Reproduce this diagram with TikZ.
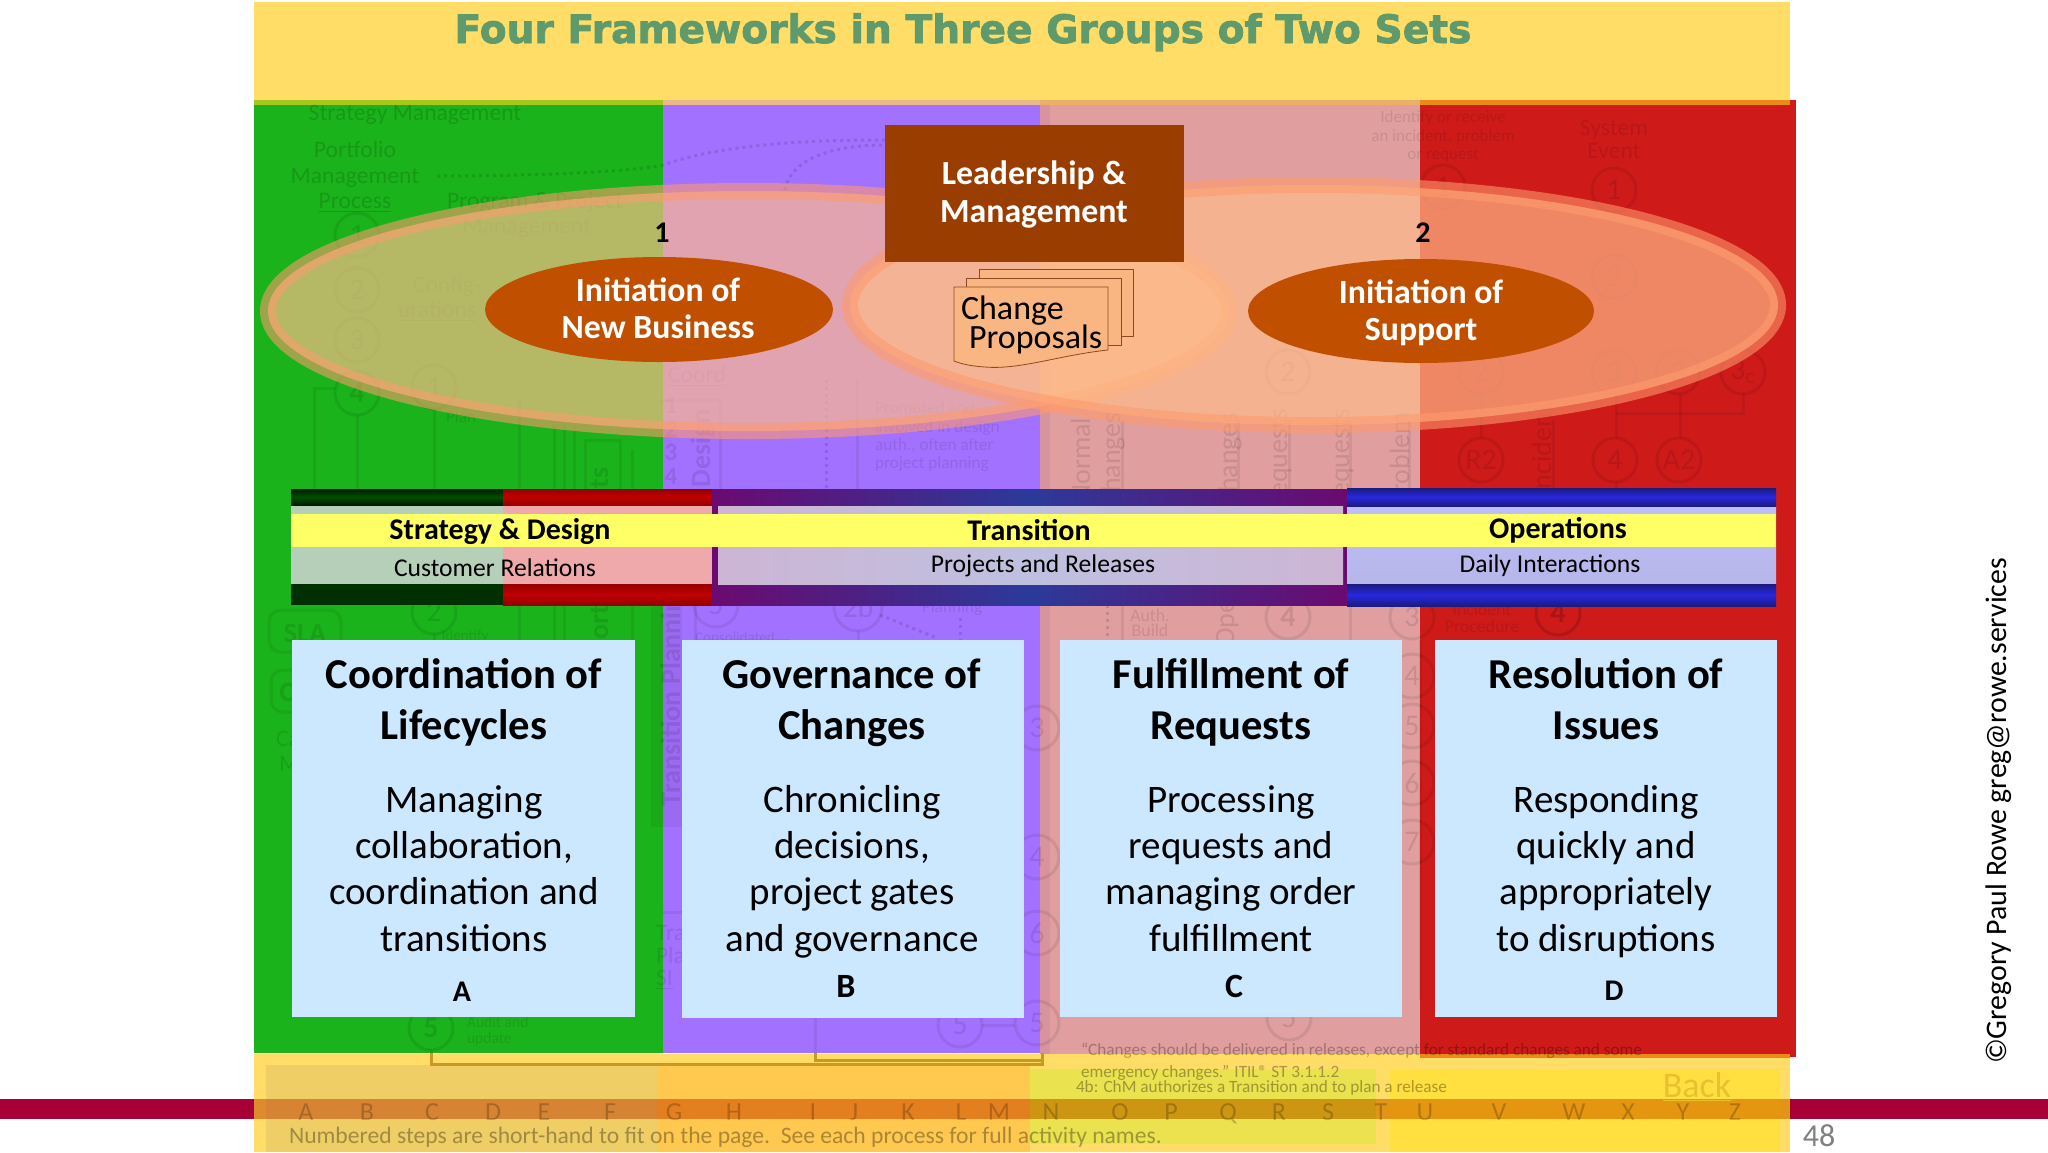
\documentclass[tikz,border=0pt]{standalone}
\usepackage{fontspec}
\setmainfont{Carlito}
\newfontfamily\titlefont[BoldFeatures={FakeBold=2}]{DejaVu Sans}
\usetikzlibrary{shapes.geometric}
\newcommand{\fs}[1]{\fontsize{#1}{#1}\selectfont}
\newcommand{\defc}[2]{\definecolor{#1}{HTML}{#2}}
\defc{cgreen}{1BB31B}\defc{cpurple}{A371FF}\defc{cpink}{E09E9E}\defc{cred}{CF1A1A}
\defc{cyel}{FFDD66}\defc{ccrim}{A80036}\defc{cbox}{CCE8FF}\defc{corange}{C05000}
\defc{cbrown}{993D00}\defc{cpeach}{FFBC8A}\defc{cstroke}{FF9A6C}\defc{cdocfill}{F9B682}
\defc{cdocline}{8B4A20}\defc{cstripy}{FFFF66}\defc{cpinkedge}{D8939E}
\defc{stripa}{A6C81A}\defc{stripb}{EAB88A}\defc{stripc}{EAB067}\defc{stripd}{EB8A1A}
\defc{zonea}{F0CE66}\defc{zoneb}{FFC84F}\defc{zonec}{EAE24E}\defc{zoned}{FFE040}
\defc{oa}{E08A30}\defc{ob}{D68433}\defc{occ}{E37F1F}\defc{od}{CC9612}\defc{oe}{E09418}\defc{of}{E59610}
\defc{pgl}{B5CFB9}\defc{prl}{EFA9AA}\defc{tlight}{CDB5D5}\defc{tmid}{BFC0E0}
\defc{opl}{BEBEFC}\defc{opm}{B6B6E8}\defc{tpur}{6B0A70}\defc{tblu}{2B3A9A}
\defc{bandr}{C00000}\defc{bandre}{960000}\defc{bgd}{003000}\defc{bgm}{005000}\defc{bge}{001A00}
\defc{bbl}{2828E0}\defc{bbe}{1A1A80}\defc{titlec}{5F9A6D}\defc{linegold}{C99A1F}\defc{backc}{E8C030}
\tikzset{
  x=0.5pt,y=-0.5pt,
  tx/.style={inner sep=0pt,outer sep=0pt,anchor=base},
  txw/.style={inner sep=0pt,outer sep=0pt,anchor=base west},
  ghost/.style={inner sep=0pt,outer sep=0pt,anchor=base,text=black,text opacity=.10},
  ghostw/.style={ghost,anchor=base west},
  gline/.style={draw=black,draw opacity=.07,line width=1.5pt},
  gcirc/.style={circle,draw=black,draw opacity=.08,line width=1.5pt,minimum size=22pt,inner sep=0pt,text=black,text opacity=.10,font=\fs{15}},
  gdot/.style={draw=black,draw opacity=.12,line width=1.5pt,dotted},
  bigell/.style={ellipse,inner sep=0pt,fill=cpeach,fill opacity=.68,draw=cstroke,draw opacity=.58,line width=8pt},
  initell/.style={ellipse,inner sep=0pt,outer sep=0pt,fill=corange},
  bh/.style={tx,yshift=-.5pt,font=\fs{21.3}\bfseries},
  bb/.style={tx,yshift=-.5pt,font=\fs{19.5}},
  bl/.style={tx,font=\fs{15}\bfseries},
  ban/.style={tx,font=\fs{15}\bfseries},
  bans/.style={tx,font=\fs{12.8}},
  ini/.style={tx,text=white,font=\fs{16.9}\bfseries},
  doc/.style={draw=cdocline,line width=.4pt,fill=cdocfill},
  foot/.style={inner sep=0pt,outer sep=0pt,anchor=base,text=black,text opacity=.33},
  footw/.style={foot,anchor=base west},
}
\begin{document}
\begin{tikzpicture}
\useasboundingbox (0,0) rectangle (2048,1152);
\fill[white] (0,0) rectangle (2048,1152);
% top band
\fill[cyel] (254,2) rectangle (1790,100);
% columns
\fill[cred] (1420,100) rectangle (1796,1057);
\fill[cgreen] (254,105) rectangle (663,1053);
\fill[cpurple] (663,105) rectangle (1040,1053);
\fill[cpink] (1040,105) rectangle (1420,1054);
\fill[cpinkedge] (1040,105) rectangle (1050,1054);
\fill[stripa] (254,100) rectangle (663,105);
\fill[stripb] (663,100) rectangle (1040,105);
\fill[stripc] (1040,100) rectangle (1420,105);
\fill[stripd] (1420,100) rectangle (1790,105);

% faint background drawing
\node[ghost,font=\fs{11.8},text opacity=.14] (g1) at (415,120) {Strategy Management};
\node[ghost,font=\fs{11.8},text opacity=.14] (g2) at (355,157) {Portfolio};
\node[ghost,font=\fs{11.8},text opacity=.14] (g3) at (355,183) {Management};
\node[ghost,font=\fs{11.8},text opacity=.14] (g4) at (355,208) {\underline{Process}};
\node[ghost,font=\fs{11.8},anchor=base west,text opacity=.14] (g5) at (447,208) {Program \& Project};
\node[ghost,font=\fs{11.8}] (g6) at (527,233) {Management};
\draw[gdot] (437,176) .. controls (560,176) and (640,170) .. (663,165) .. controls (720,145) and (800,140) .. (885,140);
\draw[gdot] (785,190) .. controls (790,160) and (830,145) .. (885,145);
\node[gcirc] (c1) at (357,235) {1};
\node[gcirc] (c2) at (357,290) {2};
\node[gcirc] (c3) at (357,340) {3};
\node[gcirc,font=\fs{15}\bfseries] (c4) at (357,393) {4};
\node[gcirc] (c5) at (434,387) {1};
\node[ghost,font=\fs{11.8}] (g7) at (447,292) {Config-};
\node[ghost,font=\fs{11.8}] (g8) at (437,317) {\underline{urations}};
\node[ghost,font=\fs{8.5}] (g9) at (461,422) {Plan};
\draw[gline] (357,415) -- (357,489);
\draw[gline] (314,489) -- (314,388) -- (335,388);
\draw[gline] (434,409) -- (434,489);
\draw[gline] (519,400) -- (519,489);
\draw[gline] (554,425) -- (554,489) (564,425) -- (564,489) (574,425) -- (574,489);
\draw[gline] (585,489) -- (585,440) -- (620,440) -- (620,489);
\draw[gline] (632,489) -- (632,450);
\node[ghost,font=\fs{14}\bfseries,rotate=90] (g10) at (608,478) {ts};
\node[ghost,font=\fs{14}\bfseries,rotate=90] (g11) at (608,617) {orts};
\draw[gline] (519,605) -- (519,640) (554,605) -- (554,640) (564,605) -- (564,640) (632,605) -- (632,640);
\node[gcirc] (c6) at (434,612) {2};
\draw[gline] (434,634) -- (434,640);
\node[ghost,font=\fs{7.5}] (g12) at (465,640) {Identify};
\draw[gline,rounded corners=6pt] (269,610) rectangle (341,652);
\node[ghost,font=\fs{14}\bfseries] (g13) at (305,642) {SLA};
\draw[gline,rounded corners=6pt] (271,670) rectangle (341,712);
\node[ghost,font=\fs{14}\bfseries] (g14) at (287,701) {C};
\node[ghostw,font=\fs{11.8}] (g15) at (276,746) {Ca};
\node[ghostw,font=\fs{11.8}] (g16) at (279,771) {M};
\node[gcirc,font=\fs{15}\bfseries] (c7) at (431,1028) {5};
\draw[gline] (431,1050) -- (431,1053);
\node[ghostw,font=\fs{7.8}] (g17) at (467,1027) {Audit and};
\node[ghostw,font=\fs{7.8}] (g18) at (467,1043) {update};
\fill[black,fill opacity=.05] (651,605) rectangle (682,827);
\node[ghost,font=\fs{14}\bfseries,rotate=90] (g19) at (680,695) {Transition Planning};
\draw[gline] (663,912) -- (682,912);
\node[ghostw,font=\fs{11.8}] (g20) at (656,940) {Tra};
\node[ghostw,font=\fs{11.8}] (g21) at (656,963) {Pla};
\node[ghostw,font=\fs{11.8}] (g22) at (656,985) {\underline{SI}};
\node[ghost,font=\fs{11.8}] (g23) at (697,382) {\underline{Coord}};
\node[ghost,font=\fs{12.5}\bfseries] (g24) at (671,413) {1};
\node[ghost,font=\fs{12.5}\bfseries] (g25) at (671,437) {2};
\node[ghost,font=\fs{12.5}\bfseries] (g26) at (671,460) {3};
\node[ghost,font=\fs{12.5}\bfseries] (g27) at (671,484) {4};
\node[ghost,font=\fs{14}\bfseries,rotate=90] (g28) at (710,448) {Design};
\draw[gline] (720,400) -- (720,489) (660,400) -- (720,400);
\node[ghostw,font=\fs{8.6}] (g29) at (875,413) {Promoted and};
\node[ghostw,font=\fs{8.6}] (g30) at (875,432) {involved in design};
\node[ghostw,font=\fs{8.6}] (g31) at (875,450) {auth., often after};
\node[ghostw,font=\fs{8.6}] (g32) at (875,468) {project planning};
\draw[gdot] (826,380) -- (826,489);
\draw[gline] (857,380) -- (857,489);
\node[gcirc,minimum size=24pt] (c8) at (858,607) {2b};
\node[ghost,font=\fs{8.6}] (g34) at (952,612) {Planning};
\draw[gdot] (880,615) -- (937,638);
\draw[gdot] (960,618) -- (960,640);
\draw[gline] (858,631) -- (858,640);
\node[ghost,font=\fs{7.5}] (g35) at (735,642) {Consolidated};
\node[gcirc] (c9) at (716,605) {5};
\draw[gline] (695,605) -- (695,640) -- (790,640);
\node[gcirc] (c10) at (1037,728) {3};
\node[gcirc] (c11) at (1037,857) {4};
\node[gcirc] (c12) at (1037,933) {6};
\node[gcirc] (c13) at (1037,1023) {5};
\node[gcirc] (c14) at (960,1025) {5};
\draw[gline] (982,1025) -- (1015,1025);
\draw[gline] (815,1017) -- (815,1053);
% pink
\node[ghost,font=\fs{14},rotate=90] (g36) at (1090,460) {Normal};
\node[ghost,font=\fs{14},rotate=90] (g37) at (1120,460) {Changes};
\node[ghost,font=\fs{14},rotate=90] (g38) at (1237,460) {Changes};
\node[ghost,font=\fs{14},rotate=90] (g39) at (1287,460) {Requests};
\node[ghost,font=\fs{14},rotate=90] (g40) at (1349,460) {Requests};
\node[ghost,font=\fs{14},rotate=90] (g41) at (1409,460) {Problem};
\draw[gline] (1122,420) -- (1122,489) (1238,420) -- (1238,489) (1289,420) -- (1289,489) (1350,420) -- (1350,489) (1409,420) -- (1409,489);
\node[ghost,font=\fs{8.9}] (g42) at (1150,621) {Auth.};
\node[ghost,font=\fs{8.9}] (g43) at (1150,636) {Build};
\draw[gdot] (1107,605) -- (1107,640);
\draw[gline] (1122,605) -- (1122,640);
\node[ghost,font=\fs{14},rotate=90] (g44) at (1234,623) {Ope};
\node[gcirc,font=\fs{15}\bfseries] (c15) at (1288,617) {4};
\node[gcirc] (c16) at (1412,617) {3};
\draw[gline] (1350,605) -- (1350,640);
\node[ghost,font=\fs{8.9}] (g45) at (1482,615) {Incident};
\node[ghost,font=\fs{8.9}] (g46) at (1482,632) {Procedure};
\node[gcirc,font=\fs{15}\bfseries,text opacity=.18,draw opacity=.15] (c17) at (1558,613) {4};
\node[gcirc] (c18) at (1412,676) {4};
\node[gcirc] (c19) at (1412,726) {5};
\node[gcirc] (c20) at (1412,783) {6};
\node[gcirc] (c21) at (1412,842) {7};
\node[gcirc] (c22) at (1289,1018) {5};
\draw[gline] (1420,640) -- (1420,1000);
% red
\node[ghost,font=\fs{8.5}] (g47) at (1443,122) {Identify or receive};
\node[ghost,font=\fs{8.5}] (g48) at (1443,141) {an incident, problem};
\node[ghost,font=\fs{8.5}] (g49) at (1443,159) {or request};
\node[ghost,font=\fs{11.8}] (g50) at (1614,135) {System};
\node[ghost,font=\fs{11.8}] (g51) at (1614,158) {Event};
\node[gcirc] (c23) at (1443,187) {1};
\node[gcirc] (c24) at (1614,190) {1};
\node[gcirc] (c25) at (1614,277) {2};
\node[gcirc] (c26) at (1481,372) {2};
\node[gcirc] (c27) at (1614,372) {3};
\node[gcirc] (c28) at (1288,372) {2};
\node[gcirc] (c29) at (1678,372) {3};
\node[gcirc] (c30) at (1743,372) {3\textsubscript{c}};
\node[gcirc] (c31) at (1481,460) {R2};
\node[gcirc] (c32) at (1615,460) {4};
\node[gcirc] (c33) at (1679,460) {A2};
\draw[gline] (1616,413) -- (1743,413) -- (1743,393);
\draw[gline] (1680,394) -- (1680,438) (1616,394) -- (1616,438) (1481,394) -- (1481,438);
\node[ghost,font=\fs{14},rotate=90] (g52) at (1551,450) {Incident};
\draw[gline] (1553,420) -- (1553,489) (1616,482) -- (1616,489);

% bottom yellow
\fill[cyel] (254,1054) rectangle (1790,1152);
\fill[zonea] (266,1065) rectangle (657,1152);
\fill[zoneb] (657,1065) rectangle (1030,1152);
\fill[zonec] (1030,1069) rectangle (1376,1144);
\fill[zoned] (1390,1070) rectangle (1780,1152);
\fill[stripd] (1420,1054) rectangle (1790,1058);
\draw[linegold,line width=1.5pt] (431,1053) -- (431,1064) -- (1042,1064) -- (1042,1053);
\draw[linegold,line width=1.5pt] (815,1053) -- (815,1060) -- (1042,1060);
% crimson strip
\fill[ccrim] (0,1099) rectangle (2048,1119);
\fill[oa] (254,1099) rectangle (266,1119);
\fill[ob] (266,1099) rectangle (657,1119);
\fill[occ] (657,1099) rectangle (1030,1119);
\fill[od] (1030,1099) rectangle (1376,1119);
\fill[oe] (1376,1099) rectangle (1390,1119);
\fill[of] (1390,1099) rectangle (1780,1119);
\fill[oe] (1780,1099) rectangle (1790,1119);
% bottom ghost text
\foreach \nm/\lx in {A/306,B/367,C/432,D/493,E/544,F/610,G/674,H/734,I/813,J/854,K/908,L/961,M/999,N/1051,O/1120,P/1171,Q/1228,R/1279,S/1328,T/1381,U/1425,V/1499,W/1574,X/1628,Y/1683,Z/1735}
  \node[foot,font=\fs{13},text opacity=.22] (let\nm) at (\lx,1120) {\nm};
\node[footw,font=\fs{11.8}] (f1) at (289,1143) {Numbered steps are short-hand to fit on the page.\ \ See each process for full activity names.};
\node[footw,font=\fs{8.6},text opacity=.28] (f2) at (1081,1055) {“Changes should be delivered in releases, except for standard changes and some};
\node[footw,font=\fs{8.6}] (f3) at (1081,1077) {emergency changes.” ITIL® ST 3.1.1.2};
\node[footw,font=\fs{8.6}] (f4) at (1076,1092) {4b: ChM authorizes a Transition and to plan a release};
\node[tx,font=\fs{18},text=backc] (f5) at (1697,1097) {\underline{Back}};
% title
\node[tx,font=\titlefont\fs{19.6}\bfseries,text=titlec] (title) at (963,43) {Four Frameworks in Three Groups of Two Sets};

% big ellipses
\node[bigell,minimum width=480.5pt,minimum height=120pt] (ellL) at (748.5,311) {};
\node[bigell,minimum width=464pt,minimum height=120pt] (ellR) at (1314,305) {};
% change proposals
\draw[doc] (979,269) rectangle (1133,336);
\draw[doc] (966,278) rectangle (1121,345);
\draw[doc] (954,287) -- (1108,287) -- (1108,350) .. controls (1060,355) and (1020,370) .. (985,367) .. controls (970,366) and (962,364) .. (954,361) -- cycle;
\node[txw,font=\fs{17}] (chg) at (961,319) {Change};
\node[txw,font=\fs{17}] (prop) at (969,348) {Proposals};
% leadership
\fill[cbrown] (885,125) rectangle (1184,262);
\node[ini] (lead1) at (1034,184) {Leadership \&};
\node[ini] (lead2) at (1034,222) {Management};
% initiation
\node[initell,minimum width=174pt,minimum height=52.5pt] (iL) at (659,309.5) {};
\node[ini] (iL1) at (658,301) {Initiation of};
\node[ini] (iL2) at (658,338) {New Business};
\node[initell,minimum width=173pt,minimum height=52pt] (iR) at (1421,311) {};
\node[ini] (iR1) at (1421,303) {Initiation of};
\node[ini] (iR2) at (1421,340) {Support};
\node[tx,font=\fs{15}\bfseries] (n1) at (662,242) {1};
\node[tx,font=\fs{15}\bfseries] (n2) at (1423,242) {2};

% lifecycle bands: strategy
\fill[pgl] (291,505) rectangle (503,584);
\fill[prl] (503,505) rectangle (712,584);
\fill[bottom color=bge,top color=bge,middle color=bgm] (291,489) rectangle (503,505);
\fill[bgd] (291,584) rectangle (503,605);
\fill[bottom color=bandre,top color=bandre,middle color=bandr] (503,489) rectangle (712,505);
\fill[bottom color=bandre,top color=bandre,middle color=bandr] (503,584) rectangle (712,605);
% transition
\fill[left color=tpur,right color=tpur,middle color=tblu] (712,489) rectangle (1347,506);
\fill[left color=tpur,right color=tpur,middle color=tblu] (712,584) rectangle (1347,605);
\fill[tpur] (712,506) rectangle (718,584);
\fill[tpur] (1343,506) rectangle (1347,584);
\fill[left color=tlight,right color=tlight,middle color=tmid] (718,506) rectangle (1343,584);
% operations
\fill[bottom color=opm,top color=opl] (1347,506) rectangle (1776,584);
\fill[bottom color=bbe,top color=bbe,middle color=bbl] (1347,488) rectangle (1776,506);
\fill[bottom color=bbe,top color=bbe,middle color=bbl] (1347,584) rectangle (1776,606);
% yellow strip
\fill[cstripy] (291,514) rectangle (1776,547);
\node[ban] (b1) at (500,539) {Strategy \& Design};
\node[bans] (b2) at (495,576) {Customer Relations};
\node[ban] (b3) at (1029,540) {Transition};
\node[bans] (b4) at (1043,572) {Projects and Releases};
\node[ban] (b5) at (1558,538) {Operations};
\node[bans] (b6) at (1550,572) {Daily Interactions};

% boxes
\node[fill=cbox,minimum width=171.5pt,minimum height=188.5pt,inner sep=0pt,outer sep=0pt] (boxA) at (463.5,828.5) {};
\node[fill=cbox,minimum width=171pt,minimum height=189pt,inner sep=0pt,outer sep=0pt] (boxB) at (853,829) {};
\node[fill=cbox,minimum width=171pt,minimum height=188.5pt,inner sep=0pt,outer sep=0pt] (boxC) at (1231,828.5) {};
\node[fill=cbox,minimum width=171pt,minimum height=188.5pt,inner sep=0pt,outer sep=0pt] (boxD) at (1606,828.5) {};
\node[bh] (A1) at (464,687) {Coordination of};
\node[bh] (A2) at (464,738) {Lifecycles};
\node[bb] (A3) at (464,811) {Managing};
\node[bb] (A4) at (464,857) {collaboration,};
\node[bb] (A5) at (464,903) {coordination and};
\node[bb] (A6) at (464,950) {transitions};
\node[bl] (A7) at (462,1001) {A};
\node[bh] (B1) at (852,687) {Governance of};
\node[bh] (B2) at (852,738) {Changes};
\node[bb] (B3) at (852,811) {Chronicling};
\node[bb] (B4) at (852,857) {decisions,};
\node[bb] (B5) at (852,903) {project gates};
\node[bb] (B6) at (852,950) {and governance};
\node[tx,font=\fs{17}\bfseries] (B7) at (846,997) {B};
\node[bh] (C1) at (1231,687) {Fulfillment of};
\node[bh] (C2) at (1231,738) {Requests};
\node[bb] (C3) at (1231,811) {Processing};
\node[bb] (C4) at (1231,857) {requests and};
\node[bb] (C5) at (1231,903) {managing order};
\node[bb] (C6) at (1231,950) {fulfillment};
\node[tx,font=\fs{17}\bfseries] (C7) at (1234,997) {C};
\node[bh] (D1) at (1606,687) {Resolution of};
\node[bh] (D2) at (1606,738) {Issues};
\node[bb] (D3) at (1606,811) {Responding};
\node[bb] (D4) at (1606,857) {quickly and};
\node[bb] (D5) at (1606,903) {appropriately};
\node[bb] (D6) at (1606,950) {to disruptions};
\node[bl] (D7) at (1614,1000) {D};

% margin
\node[inner sep=0pt,outer sep=0pt,anchor=base,rotate=90,font=\fs{14.9}] (copy) at (2006,811) {©Gregory Paul Rowe greg@rowe.services};
\node[tx,font=\fs{16},text=black!50] (page) at (1819,1146) {48};
\end{tikzpicture}
\end{document}
